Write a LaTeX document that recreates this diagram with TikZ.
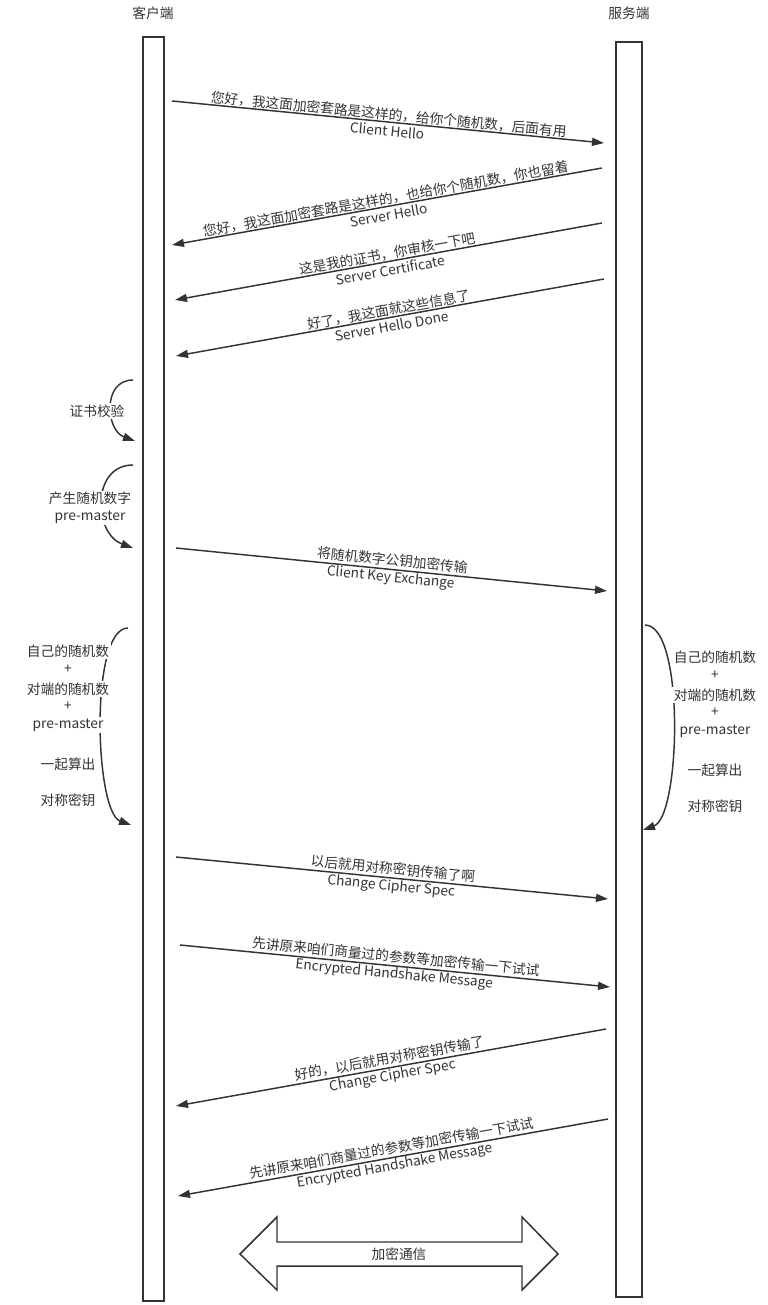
\documentclass[tikz,border=0pt]{standalone}
\usepackage{fontspec}
\setmainfont{Noto Sans CJK SC}
\usetikzlibrary{arrows.meta}
\usetikzlibrary{positioning}

\tikzset{
  lifebar/.style={draw=black!80, line width=1.2pt},
  msg/.style={draw=black!80, line width=1.1pt, -{Triangle[length=9pt,width=6pt]}},
  msglabel/.style={sloped, midway, align=center, inner sep=1pt, font=\fontsize{10.3}{12.5}\selectfont, text=black!80},
  selfloop/.style={draw=black!80, line width=1.1pt, -{Triangle[length=9pt,width=6pt]}, looseness=1.3},
  note/.style={font=\fontsize{10.3}{12.5}\selectfont, text=black!80, inner sep=1pt, fill=white},
}

\begin{document}
\begin{tikzpicture}[x=0.75pt, y=-0.75pt]
\useasboundingbox (0,0) rectangle (767,1305);

% the two parties
\node[note] (client) at (153,13) {客户端};
\node[note] (server) at (629,13) {服务端};
\draw[lifebar] (143,37) rectangle (164,1301);
\draw[lifebar] (616,42) rectangle (642,1297);

% message end points
\coordinate (c1) at (172,101);  \coordinate (s1) at (604,143);
\coordinate (s2) at (602,168);  \coordinate (c2) at (172,245);
\coordinate (s3) at (602,223);  \coordinate (c3) at (175,300);
\coordinate (s4) at (604,279);  \coordinate (c4) at (176,356);
\coordinate (c5) at (176,548);  \coordinate (s5) at (607,591);
\coordinate (c6) at (176,857);  \coordinate (s6) at (608,899);
\coordinate (c7) at (180,945);  \coordinate (s7) at (610,987);
\coordinate (s8) at (606,1029); \coordinate (c8) at (176,1106);
\coordinate (s9) at (608,1119); \coordinate (c9) at (178,1196);

\draw[msg] (c1) -- (s1) node[msglabel] {您好，我这面加密套路是这样的，给你个随机数，后面有用\\Client Hello};
\draw[msg] (s2) -- (c2) node[msglabel] {您好，我这面加密套路是这样的，也给你个随机数，你也留着\\Server Hello};
\draw[msg] (s3) -- (c3) node[msglabel] {这是我的证书，你审核一下吧\\Server Certificate};
\draw[msg] (s4) -- (c4) node[msglabel] {好了，我这面就这些信息了\\Server Hello Done};
\draw[msg] (c5) -- (s5) node[msglabel] {将随机数字公钥加密传输\\Client Key Exchange};
\draw[msg] (c6) -- (s6) node[msglabel] {以后就用对称密钥传输了啊\\Change Cipher Spec};
\draw[msg] (c7) -- (s7) node[msglabel] {先讲原来咱们商量过的参数等加密传输一下试试\\Encrypted Handshake Message};
\draw[msg] (s8) -- (c8) node[msglabel] {好的，以后就用对称密钥传输了\\Change Cipher Spec};
\draw[msg] (s9) -- (c9) node[msglabel] {先讲原来咱们商量过的参数等加密传输一下试试\\Encrypted Handshake Message};

% local steps on the client side
\coordinate (v1a) at (133,380); \coordinate (v1b) at (135,441);
\coordinate (v2a) at (133,465); \coordinate (v2b) at (133,548);
\coordinate (k1a) at (128,628); \coordinate (k1b) at (131,825);
\draw[selfloop] (v1a) to[out=180, in=160] (v1b);
\node[note] (verify) at (97,411) {证书校验};
\draw[selfloop] (v2a) to[out=180, in=160] (v2b);
\node[note, align=center] (premaster) at (90,508) {产生随机数字\\pre-master};
\draw[selfloop, looseness=0.5] (k1a) to[out=180, in=160] (k1b);

% local step on the server side
\coordinate (k2a) at (645,625); \coordinate (k2b) at (643,830);
\draw[selfloop, looseness=0.5] (k2a) to[out=0, in=20] (k2b);

\foreach \txt/\y [count=\i] in {自己的随机数/651, +/669, 对端的随机数/689, +/706, pre-master/725, 一起算出/764, 对称密钥/800} {
  \node[note] (ckey\i) at (68,\y) {\txt};
  \node[note] (skey\i) at (715,\y+6) {\txt};
}

% encrypted channel
\draw[draw=black!80, line width=1.1pt] (240,1254) -- (277,1217) -- (277,1242) -- (522,1242) -- (522,1217)
  -- (558,1254) -- (522,1290) -- (522,1266) -- (277,1266) -- (277,1290) -- cycle;
\node[note] (secure) at (399,1254) {加密通信};

\end{tikzpicture}
\end{document}
